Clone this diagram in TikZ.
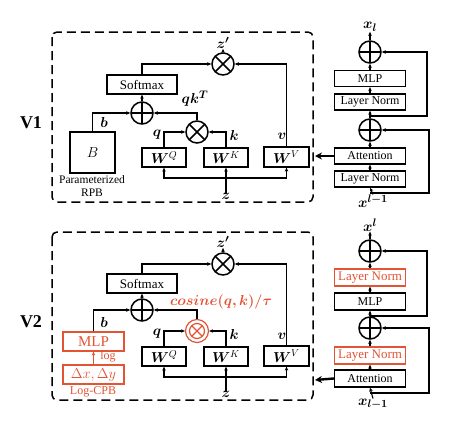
\documentclass[tikz,border=0pt]{standalone}
\usepackage{fontspec}
\setmainfont{Liberation Serif}
\usepackage{amsmath,bm}
\usepackage{tikz}
\usetikzlibrary{arrows.meta, positioning}
\usepackage{xcolor}
\definecolor{swinred}{RGB}{226,84,52}
\tikzset{box/.style={draw=black, line width=1.3pt, inner sep=0pt, font=\fontsize{13}{15}\selectfont},redbox/.style={box, draw=swinred, text=swinred},blockbox/.style={box, minimum width=71pt, font=\fontsize{12}{14}\selectfont}}
\tikzset{oplusnode/.style={circle, draw=black, line width=1.5pt, minimum size=22pt, inner sep=0pt, path picture={\draw[line width=1.5pt] (path picture bounding box.north) -- (path picture bounding box.south) (path picture bounding box.west) -- (path picture bounding box.east);}},otimesnode/.style={circle, draw=black, line width=1.5pt, minimum size=22pt, inner sep=0pt, path picture={\draw[line width=1.5pt] (path picture bounding box.north west) -- (path picture bounding box.south east) (path picture bounding box.north east) -- (path picture bounding box.south west);}}}

\begin{document}
\begin{tikzpicture}[
        x=1pt, y=-1pt,
        line join=miter,
        arrow/.style={-{Stealth[length=4pt, width=3.5pt]}, line width=1.1pt},
        thickarrow/.style={-{Stealth[length=7pt, width=7pt]}, line width=2.4pt},
        label/.style={inner sep=0pt, font=\fontsize{15}{17}\selectfont},
        panel/.style={draw=black, line width=1.5pt, dash pattern=on 9pt off 5pt, rounded corners=5pt},
        redotimes/.style={circle, draw=swinred, line width=1.2pt, minimum size=23pt, inner sep=0pt, path picture={\draw[swinred, line width=1.2pt] (path picture bounding box.center) circle (7.5pt) ([shift={(45:7.5pt)}]path picture bounding box.center) -- ([shift={(225:7.5pt)}]path picture bounding box.center) ([shift={(135:7.5pt)}]path picture bounding box.center) -- ([shift={(-45:7.5pt)}]path picture bounding box.center);}}
    ]
        \useasboundingbox (0,0) rectangle (474,424);
        % ---------------- V1 ----------------
        \draw[panel] (52,32) rectangle (313,202);
        \node[font=\fontsize{18}{20}\selectfont\bfseries] (v1) at (31,123) {V1};
        % Attention block
        \node[otimesnode] (ot1) at (223,64) {};
        \node[label] (zp1) at (223,43) {$\bm{z'}$};
        \node[box, minimum width=70pt, minimum height=19pt] (sm1) at (142,84.5) {Softmax};
        \node[oplusnode] (op1) at (142,113) {};
        \node[label] (qk1) at (195,99) {$\bm{qk^T}$};
        \node[otimesnode] (ox1) at (197,132) {};
        \node[box, minimum width=45pt, minimum height=41pt, font=\fontsize{15}{17}\selectfont] (rpb1) at (92.5,152.5) {$B$};
        \node[label] (b1) at (104,122) {$\bm{b}$};
        \node[align=center, inner sep=0pt, font=\fontsize{11.5}{13.5}\selectfont] (rpbl1) at (92,186) {Parameterized\\RPB};
        \node[box, minimum width=44pt, minimum height=19pt, font=\fontsize{14}{16}\selectfont] (wq1) at (164,157.5) {$\bm{W}^{Q}$};
        \node[box, minimum width=44pt, minimum height=19pt, font=\fontsize{14}{16}\selectfont] (wk1) at (226,157.5) {$\bm{W}^{K}$};
        \node[box, minimum width=45pt, minimum height=20pt, font=\fontsize{14}{16}\selectfont] (wv1) at (286.5,157) {$\bm{W}^{V}$};
        \node[label] (q1) at (157,135) {$\bm{q}$};
        \node[label] (k1) at (234,135) {$\bm{k}$};
        \node[label] (val1) at (282,136) {$\bm{v}$};
        \node[label] (z1) at (226,196) {$\bm{z}$};
        \coordinate (zj1) at (226,178);
        % Connections
        \draw[arrow] (z1.north) -- (wk1.south);
        \draw[arrow] (zj1) -| (wq1.south);
        \draw[arrow] (zj1) -| (wv1.south);
        \draw[arrow] (wq1.north) |- (ox1.west);
        \draw[arrow] (wk1.north) |- (ox1.east);
        \draw[arrow] (ox1.north) |- (op1.east);
        \draw[arrow] (rpb1.north) |- (op1.west);
        \draw[arrow] (op1.north) -- (sm1.south);
        \draw[arrow] (sm1.north) |- (ot1.west);
        \draw[arrow] (wv1.north) |- (ot1.east);
        \draw[arrow] (ot1.north) -- (zp1.south);
        % Transformer block
        \node[label] (xo1) at (370,27) {$\bm{x_l}$};
        \node[oplusnode] (ra1) at (370,52) {};
        \node[blockbox, minimum height=16pt] (mlp1) at (370,78.5) {MLP};
        \node[blockbox, minimum height=16pt] (lna1) at (370,102) {Layer Norm};
        \node[oplusnode] (rb1) at (370,130) {};
        \node[blockbox, minimum height=16pt] (att1) at (370,156) {Attention};
        \node[blockbox, minimum height=16pt] (lnb1) at (370,179) {Layer Norm};
        \node[label] (xi1) at (373,201) {$\bm{x^{l-1}}$};
        \coordinate (sa1) at (370,116);
        \coordinate (sb1) at (370,193);
        \draw[arrow] (xi1.north) -- (lnb1.south);
        \draw[arrow] (lnb1.north) -- (att1.south);
        \draw[arrow] (att1.north) -- (rb1.south);
        \draw[arrow] (rb1.north) -- (lna1.south);
        \draw[arrow] (lna1.north) -- (mlp1.south);
        \draw[arrow] (mlp1.north) -- (ra1.south);
        \draw[arrow] (ra1.north) -- (xo1.south);
        \draw[arrow] (sa1) -- (427,116) |- (ra1.east);
        \draw[arrow] (sb1) -- (429,193) |- (rb1.east);
        \coordinate (in1) at (315,156);
        \draw[thickarrow] (att1.west) -- (in1);
        % ---------------- V2 ----------------
        \draw[panel] (52,232) rectangle (313,400);
        \node[font=\fontsize{18}{20}\selectfont\bfseries] (v2) at (31,322) {V2};
        % Attention block
        \node[otimesnode] (ot2) at (223,264) {};
        \node[label] (zp2) at (223,242) {$\bm{z'}$};
        \node[box, minimum width=70pt, minimum height=19pt] (sm2) at (142,283.5) {Softmax};
        \node[oplusnode] (op2) at (142,310) {};
        \node[label, text=swinred, font=\fontsize{13.5}{16}\selectfont] (cos2) at (221,302) {$\bm{cosine(q,k)/\tau}$};
        \node[redotimes] (ox2) at (197,331) {};
        \node[redbox, minimum width=61pt, minimum height=19pt, font=\fontsize{15}{17}\selectfont] (mlpb2) at (93.5,341.5) {MLP};
        \node[inner sep=0pt, text=swinred, font=\fontsize{12}{14}\selectfont] (log2) at (108,357) {log};
        \node[redbox, minimum width=61pt, minimum height=19pt, font=\fontsize{15}{17}\selectfont] (dxy2) at (93.5,374.5) {$\Delta x,\Delta y$};
        \node[inner sep=0pt, text=swinred, font=\fontsize{12}{14}\selectfont] (cpb2) at (93,392) {Log-CPB};
        \node[label] (b2) at (104,322) {$\bm{b}$};
        \node[box, minimum width=44pt, minimum height=19pt, font=\fontsize{14}{16}\selectfont] (wq2) at (164,356.5) {$\bm{W}^{Q}$};
        \node[box, minimum width=44pt, minimum height=19pt, font=\fontsize{14}{16}\selectfont] (wk2) at (226,356.5) {$\bm{W}^{K}$};
        \node[box, minimum width=45pt, minimum height=20pt, font=\fontsize{14}{16}\selectfont] (wv2) at (286.5,356) {$\bm{W}^{V}$};
        \node[label] (q2) at (157,334) {$\bm{q}$};
        \node[label] (k2) at (234,334) {$\bm{k}$};
        \node[label] (val2) at (282,336) {$\bm{v}$};
        \node[label] (z2) at (226,394) {$\bm{z}$};
        \coordinate (zj2) at (226,377);
        % Connections
        \draw[arrow] (z2.north) -- (wk2.south);
        \draw[arrow] (zj2) -| (wq2.south);
        \draw[arrow] (zj2) -| (wv2.south);
        \draw[arrow] (wq2.north) |- (ox2.west);
        \draw[arrow] (wk2.north) |- (ox2.east);
        \draw[arrow] (ox2.north) |- (op2.east);
        \draw[arrow] (mlpb2.north) |- (op2.west);
        \draw[arrow, swinred] (dxy2.north) -- (mlpb2.south);
        \draw[arrow] (op2.north) -- (sm2.south);
        \draw[arrow] (sm2.north) |- (ot2.west);
        \draw[arrow] (wv2.north) |- (ot2.east);
        \draw[arrow] (ot2.north) -- (zp2.south);
        % Transformer block
        \node[label] (xo2) at (370,225) {$\bm{x^l}$};
        \node[oplusnode] (ra2) at (370,251) {};
        \node[blockbox, redbox, minimum height=17pt] (lna2) at (370,277.5) {Layer Norm};
        \node[blockbox, minimum height=17pt] (mlp2) at (370,301.5) {MLP};
        \node[oplusnode] (rb2) at (370,328) {};
        \node[blockbox, redbox, minimum height=17pt] (lnb2) at (370,355.5) {Layer Norm};
        \node[blockbox, minimum height=17pt] (att2) at (370,378.5) {Attention};
        \node[label] (xi2) at (373,404) {$\bm{x_{l-1}}$};
        \coordinate (sa2) at (370,316);
        \coordinate (sb2) at (370,393);
        \draw[arrow] (xi2.north) -- (att2.south);
        \draw[arrow] (att2.north) -- (lnb2.south);
        \draw[arrow] (lnb2.north) -- (rb2.south);
        \draw[arrow] (rb2.north) -- (mlp2.south);
        \draw[arrow] (mlp2.north) -- (lna2.south);
        \draw[arrow] (lna2.north) -- (ra2.south);
        \draw[arrow] (ra2.north) -- (xo2.south);
        \draw[arrow] (sa2) -- (427,316) |- (ra2.east);
        \draw[arrow] (sb2) -- (429,393) |- (rb2.east);
        \coordinate (in2) at (315,380);
        \draw[thickarrow] (att2.west) -- (in2);
    \end{tikzpicture}
\end{document}
